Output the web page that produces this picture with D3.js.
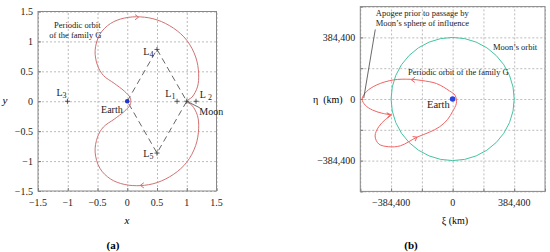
<!DOCTYPE html>
<html>
<head>
<meta charset="utf-8">
<script src="https://cdn.jsdelivr.net/npm/d3@7"></script>
<style>
  body { margin: 0; background: #fff; }
  svg { display: block; }
  svg text { font-family: "Liberation Serif", "Times New Roman", "DejaVu Serif", serif; }
</style>
</head>
<body>
<div class="canvas"></div>
<script>
// ---- data: panel (a), rotating frame, normalised units
const ticksA = [-1.5, -1, -0.5, 0, 0.5, 1, 1.5];
const orbitA = [
  [0.06, 0], [0.05, 0.06], [-0.05, 0.17], [-0.22, 0.3], [-0.4, 0.43], [-0.5, 0.6],
  [-0.54, 0.85], [-0.46, 1.12], [-0.28, 1.3], [-0.05, 1.39], [0.22, 1.41], [0.5, 1.36],
  [0.78, 1.22], [1.0, 1.02], [1.15, 0.74], [1.2, 0.46], [1.18, 0.24], [1.09, 0.07], [1.0, 0],
  [1.09, -0.07], [1.18, -0.24], [1.2, -0.46], [1.15, -0.74], [1.0, -1.02], [0.78, -1.22],
  [0.5, -1.36], [0.22, -1.41], [-0.05, -1.39], [-0.28, -1.3], [-0.46, -1.12], [-0.54, -0.85],
  [-0.5, -0.6], [-0.4, -0.43], [-0.22, -0.3], [-0.05, -0.17], [0.05, -0.06], [0.06, 0]
];
const arrowsA = [[0.19, 1.405, 0], [0.22, -1.405, 180]];
const diamond = [[0, 0], [0.5, 0.866], [1, 0], [0.5, -0.866], [0, 0]];
const lagrange = [
  { name: '3', x: -1.005, y: 0 },
  { name: '1', x: 0.837, y: 0 },
  { name: '2', x: 1.156, y: 0 },
  { name: '4', x: 0.5, y: 0.866 },
  { name: '5', x: 0.5, y: -0.866 },
  { name: 'M', x: 1.0, y: 0 }
];
const earthA = [0, 0];

// ---- data: panel (b), inertial frame, km
const moonOrbitRadius = 384400;
const ticksB = [-576600, -384400, -192200, 0, 192200, 384400, 576600];
const labelsB = [-384400, 0, 384400];
const orbitB = [
  [-381000, -100000], [-422800, -130700], [-461300, -173000], [-484300, -230600],
  [-461300, -280600], [-399800, -297900], [-326700, -292100], [-223000, -238300],
  [-146100, -207600], [-80700, -173000], [-30800, -126900], [0, -76900],
  [23100, -26900], [15400, 23100], [-19200, 50000], [-99900, 96100],
  [-192200, 115300], [-265200, 123000], [-369000, 119200], [-472800, 88400],
  [-538200, 46100], [-565100, 0], [-545800, -38400], [-499700, -69200],
  [-442100, -88400], [-381000, -100000]
];
const arrowsB = [[-257600, 119600, 180], [-223000, -238300, 28], [-388000, -98000, 10]];
const earthB = [0, 0];

const svg = d3.select('.canvas')
  .append('svg')
  .attr('width', 550)
  .attr('height', 252)
  .attr('font-family', '"Liberation Serif", "Times New Roman", serif');

const chevron = 'M-3.5,-2.6 L0,0 L-3.5,2.6';

// frame, dashed grid, little inward ticks, tick labels
const drawFrame = (g, x, y, gridVals, xLabelVals, yLabelVals, fmt) => {
  const [x0, x1] = x.range();
  const [y0, y1] = y.range();

  g.append('g')
    .attr('transform', `translate(0, ${y0})`)
    .call(d3.axisBottom(x).tickValues(gridVals).tickSize(-(y0 - y1)).tickFormat(''))
    .call(a => a.select('.domain').remove())
    .selectAll('line')
      .attr('stroke', '#bbb')
      .attr('stroke-dasharray', '2,2');

  g.append('g')
    .attr('transform', `translate(${x0}, 0)`)
    .call(d3.axisLeft(y).tickValues(gridVals).tickSize(-(x1 - x0)).tickFormat(''))
    .call(a => a.select('.domain').remove())
    .selectAll('line')
      .attr('stroke', '#bbb')
      .attr('stroke-dasharray', '2,2');

  g.append('g')
    .attr('transform', `translate(0, ${y0})`)
    .call(d3.axisBottom(x).tickValues(gridVals).tickSize(-3).tickFormat(''))
    .call(a => a.select('.domain').remove())
    .selectAll('line').attr('stroke', '#777');
  g.append('g')
    .attr('transform', `translate(${x0}, 0)`)
    .call(d3.axisLeft(y).tickValues(gridVals).tickSize(-3).tickFormat(''))
    .call(a => a.select('.domain').remove())
    .selectAll('line').attr('stroke', '#777');

  g.append('rect')
    .attr('x', x0).attr('y', y1)
    .attr('width', x1 - x0).attr('height', y0 - y1)
    .attr('fill', 'none')
    .attr('stroke', '#888')
    .attr('stroke-width', 1);

  g.selectAll('.xlab')
    .data(xLabelVals)
    .enter().append('text')
      .attr('x', d => x(d))
      .attr('y', y0 + 15)
      .attr('text-anchor', 'middle')
      .attr('font-size', 10)
      .attr('fill', '#222')
      .text(fmt);

  g.selectAll('.ylab')
    .data(yLabelVals)
    .enter().append('text')
      .attr('x', x0 - 5)
      .attr('y', d => y(d) + 3.5)
      .attr('text-anchor', 'end')
      .attr('font-size', 10)
      .attr('fill', '#222')
      .text(fmt);
};

const drawArrows = (g, x, y, data, color) => {
  g.selectAll('.arrow')
    .data(data)
    .enter().append('path')
      .attr('d', chevron)
      .attr('transform', d => `translate(${x(d[0])}, ${y(d[1])}) rotate(${-d[2]})`)
      .attr('fill', 'none')
      .attr('stroke', color)
      .attr('stroke-width', 1);
};

// ================= panel (a)
const xA = d3.scaleLinear().domain([-1.5, 1.5]).range([38, 216.5]);
const yA = d3.scaleLinear().domain([-1.5, 1.5]).range([191, 11.5]);
const gA = svg.append('g');
const fmtA = d => String(d).replace('-', '\u2212');

drawFrame(gA, xA, yA, ticksA, ticksA, ticksA, fmtA);

const lineA = d3.line()
  .x(d => xA(d[0]))
  .y(d => yA(d[1]))
  .curve(d3.curveCatmullRom.alpha(0.5));

gA.append('path')
  .datum(diamond)
  .attr('d', d3.line().x(d => xA(d[0])).y(d => yA(d[1])))
  .attr('fill', 'none')
  .attr('stroke', '#555')
  .attr('stroke-width', 0.9)
  .attr('stroke-dasharray', '6,4');

gA.append('path')
  .datum(orbitA)
  .attr('d', lineA)
  .attr('fill', 'none')
  .attr('stroke', '#d07272')
  .attr('stroke-width', 1);

drawArrows(gA, xA, yA, arrowsA, '#d07272');

gA.selectAll('.plus')
  .data(lagrange)
  .enter().append('path')
    .attr('d', d => `M${xA(d.x) - 2.5},${yA(d.y)} h5 M${xA(d.x)},${yA(d.y) - 2.5} v5`)
    .attr('stroke', '#333')
    .attr('stroke-width', 0.8);

gA.append('circle')
  .attr('cx', xA(earthA[0]))
  .attr('cy', yA(earthA[1]))
  .attr('r', 2.3)
  .attr('fill', '#2436c8');

// L labels with subscripts
const lLabels = [
  { sub: '3', x: -1.19, y: 0.08 },
  { sub: '1', x: 0.64, y: 0.07 },
  { sub: '2', x: 1.22, y: 0.05 },
  { sub: '4', x: 0.27, y: 0.78 },
  { sub: '5', x: 0.27, y: -0.94 }
];
lLabels.forEach(l => {
  const t = gA.append('text')
    .attr('x', xA(l.x))
    .attr('y', yA(l.y))
    .attr('font-size', 10)
    .attr('fill', '#222');
  t.append('tspan').text('L');
  t.append('tspan').attr('dy', 2).attr('dx', l.sub === '2' ? 2 : 0).attr('font-size', 8).text(l.sub);
});

gA.append('line')
  .attr('x1', xA(1.0)).attr('y1', yA(0))
  .attr('x2', xA(1.22)).attr('y2', yA(-0.11))
  .attr('stroke', '#444')
  .attr('stroke-width', 0.8);

const textA = [
  { t: 'Moon', x: 1.21, y: -0.23, size: 10 },
  { t: 'Earth', x: -0.44, y: -0.2, size: 10 },
  { t: 'Periodic orbit', x: -1.23, y: 1.22, size: 8.5 },
  { t: 'of the family G', x: -1.31, y: 1.06, size: 8.5 }
];
gA.selectAll('.note')
  .data(textA)
  .enter().append('text')
    .attr('x', d => xA(d.x))
    .attr('y', d => yA(d.y))
    .attr('font-size', d => d.size)
    .attr('fill', '#222')
    .text(d => d.t);

gA.append('text')
  .attr('x', 127).attr('y', 224)
  .attr('text-anchor', 'middle')
  .attr('font-size', 11).attr('font-style', 'italic')
  .text('x');
gA.append('text')
  .attr('x', 5).attr('y', 104)
  .attr('text-anchor', 'middle')
  .attr('font-size', 11).attr('font-style', 'italic')
  .text('y');
gA.append('text')
  .attr('x', 113).attr('y', 249)
  .attr('text-anchor', 'middle')
  .attr('font-size', 11).attr('font-weight', 'bold')
  .text('(a)');

// ================= panel (b)
const xB = d3.scaleLinear().domain([-576600, 576600]).range([360.3, 545]);
const yB = d3.scaleLinear().domain([-576600, 576600]).range([191.4, 6.6]);
const gB = svg.append('g');
const fmtB = d => d3.format(',')(d);

drawFrame(gB, xB, yB, ticksB, labelsB, labelsB, fmtB);

gB.append('circle')
  .attr('cx', xB(0))
  .attr('cy', yB(0))
  .attr('r', xB(moonOrbitRadius) - xB(0))
  .attr('fill', 'none')
  .attr('stroke', '#45c4a2')
  .attr('stroke-width', 1);

const lineB = d3.line()
  .x(d => xB(d[0]))
  .y(d => yB(d[1]))
  .curve(d3.curveCatmullRom.alpha(0.5));

gB.append('path')
  .datum(orbitB)
  .attr('d', lineB)
  .attr('fill', 'none')
  .attr('stroke', '#f26464')
  .attr('stroke-width', 1);

drawArrows(gB, xB, yB, arrowsB, '#f26464');

gB.append('circle')
  .attr('cx', xB(earthB[0]))
  .attr('cy', yB(earthB[1]))
  .attr('r', 2.8)
  .attr('fill', '#2a44e0');

gB.append('line')
  .attr('x1', xB(-555000)).attr('y1', yB(6000))
  .attr('x2', xB(-483000)).attr('y2', yB(434000))
  .attr('stroke', '#444')
  .attr('stroke-width', 0.8);

const textB = [
  { t: 'Apogee prior to passage by', x: -480000, y: 518000, size: 8.5, anchor: 'start' },
  { t: 'Moon\u2019s sphere of influence', x: -480000, y: 458000, size: 8.5, anchor: 'start' },
  { t: 'Moon\u2019s orbit', x: 252000, y: 305000, size: 8.5, anchor: 'start' },
  { t: 'Periodic orbit of the family G', x: -279000, y: 149000, size: 8.5, anchor: 'start' },
  { t: 'Earth', x: -18000, y: -54000, size: 10.5, anchor: 'end' }
];
gB.selectAll('.note')
  .data(textB)
  .enter().append('text')
    .attr('x', d => xB(d.x))
    .attr('y', d => yB(d.y))
    .attr('font-size', d => d.size)
    .attr('text-anchor', d => d.anchor)
    .attr('fill', '#222')
    .text(d => d.t);

gB.append('text')
  .attr('x', 313).attr('y', 102.5)
  .attr('font-size', 10)
  .attr('xml:space', 'preserve')
  .text('\u03b7  (km)');
gB.append('text')
  .attr('x', 455).attr('y', 224)
  .attr('text-anchor', 'middle')
  .attr('font-size', 10)
  .text('\u03be (km)');
gB.append('text')
  .attr('x', 411).attr('y', 249)
  .attr('text-anchor', 'middle')
  .attr('font-size', 11).attr('font-weight', 'bold')
  .text('(b)');
</script>
</body>
</html>
